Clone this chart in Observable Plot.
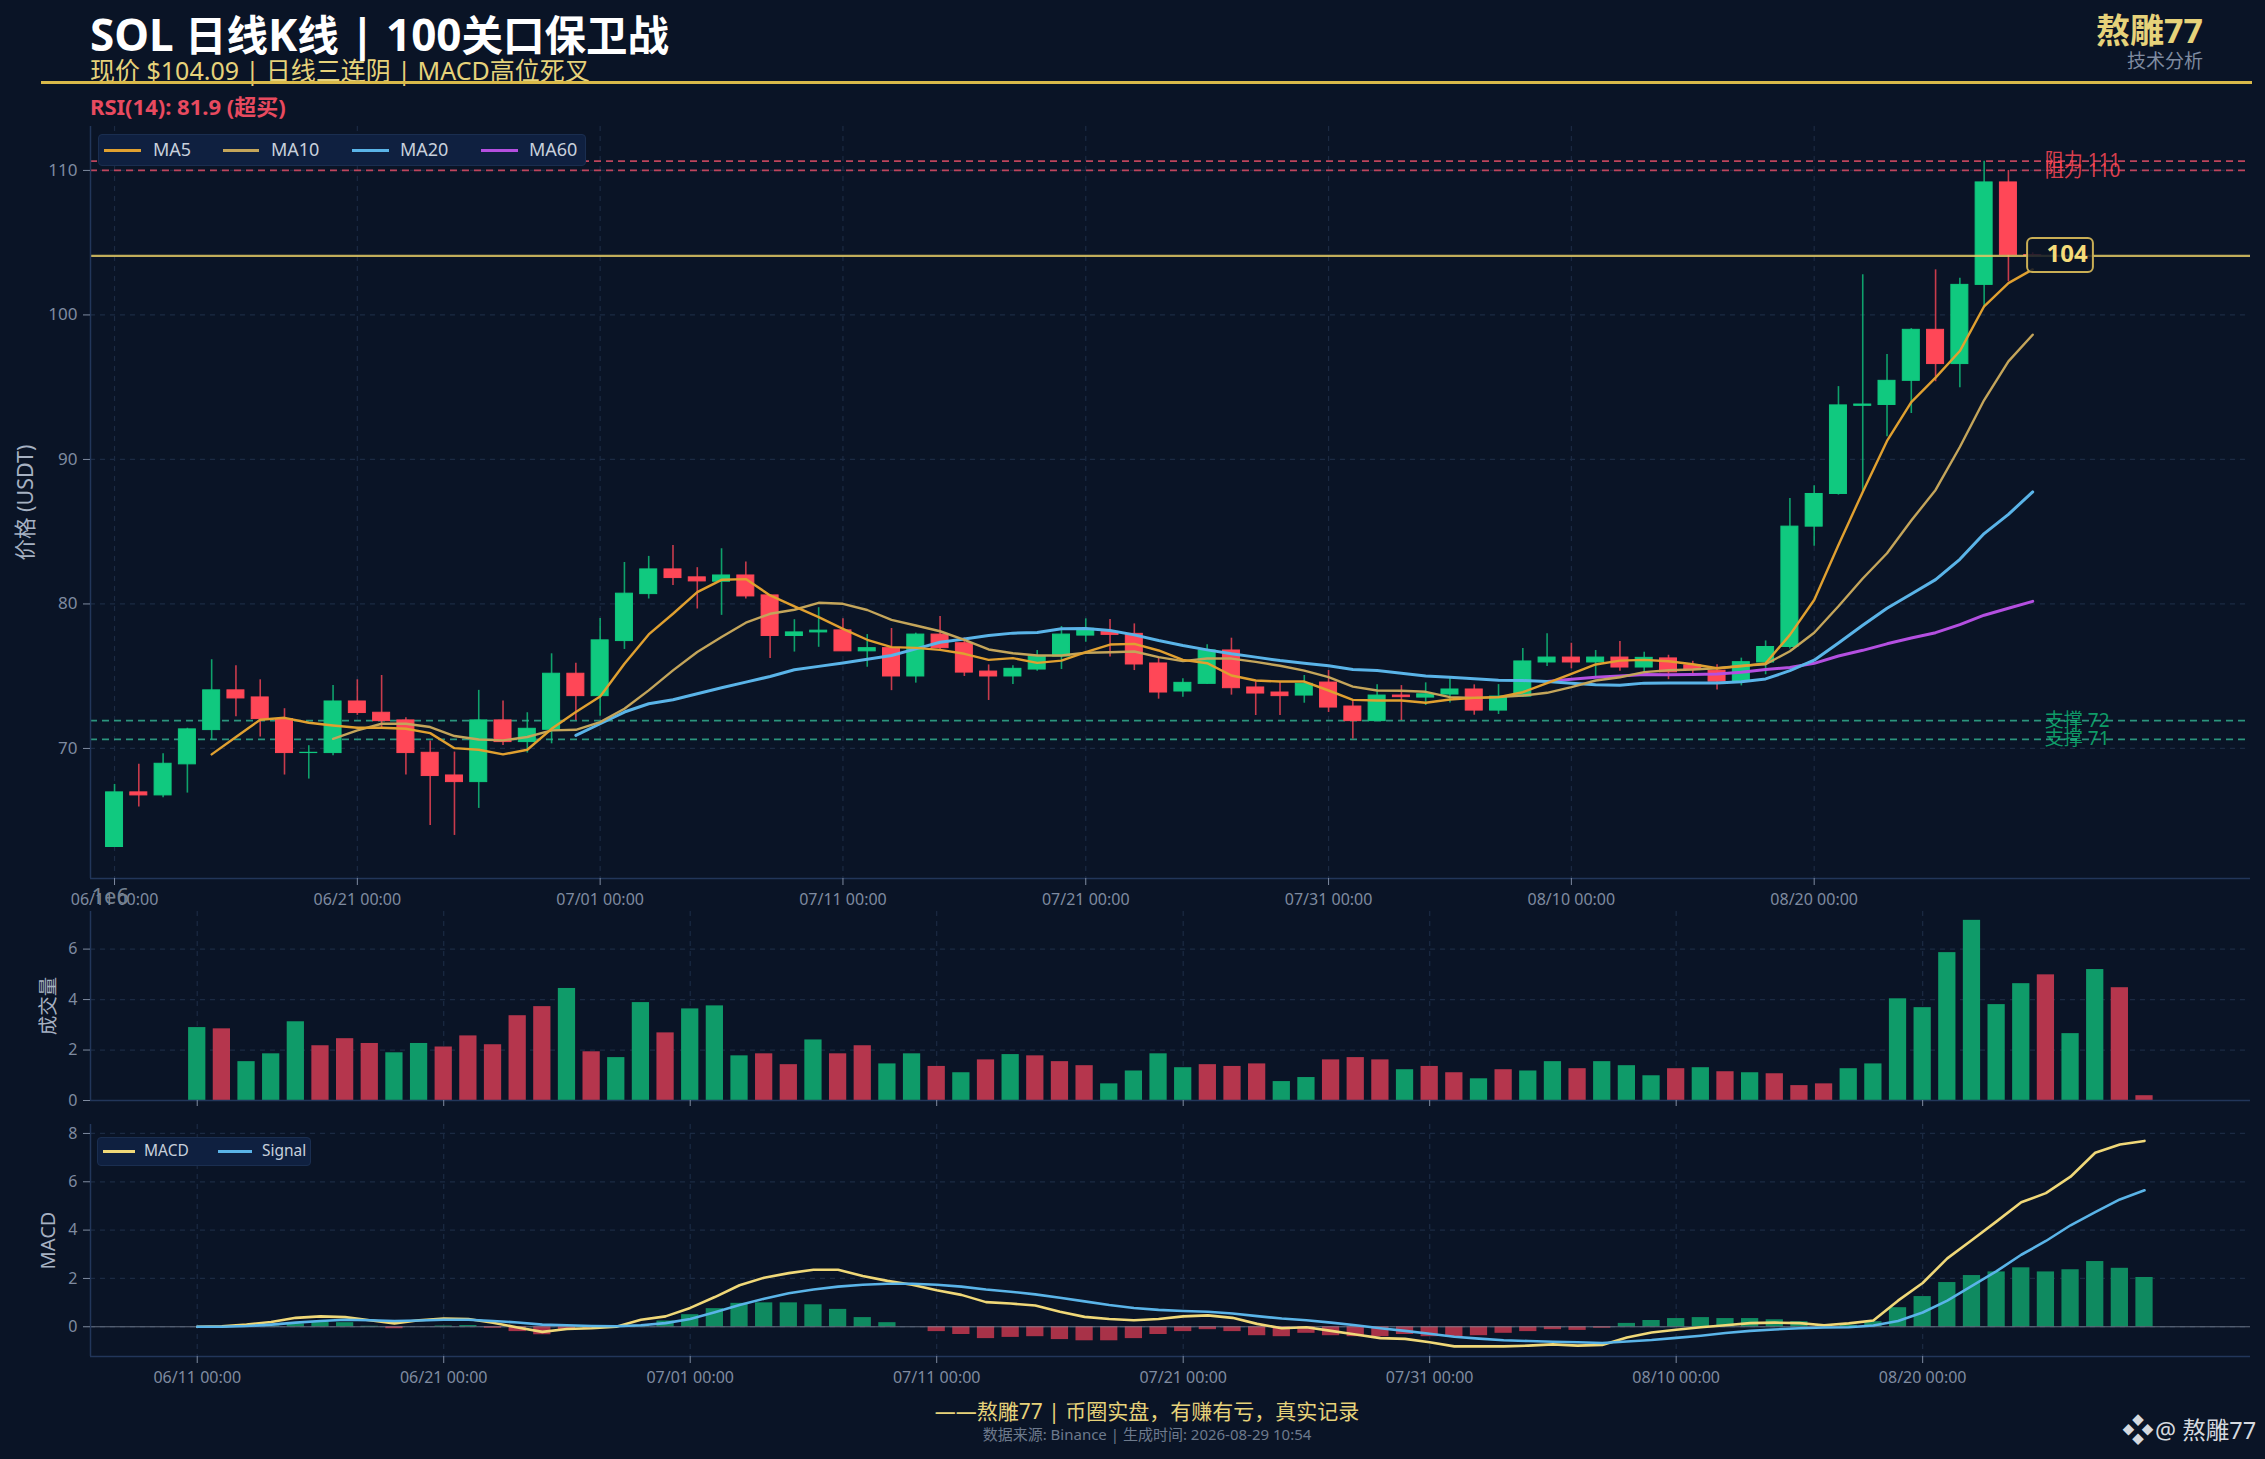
<!DOCTYPE html>
<html lang="zh">
<head>
<meta charset="utf-8">
<title>SOL 日线K线</title>
<script src="https://cdn.jsdelivr.net/npm/d3@7"></script>
<script src="https://cdn.jsdelivr.net/npm/@observablehq/plot@0.6"></script>
<style>
html,body{margin:0;padding:0;background:#0a1426;}
#page{position:relative;width:2265px;height:1459px;overflow:hidden;background:#0a1426;font-family:"Noto Sans","Noto Sans CJK SC",sans-serif;}
#page svg{position:absolute;left:0;background:transparent;overflow:visible;}
.t{position:absolute;white-space:nowrap;line-height:1;}
.box{position:absolute;box-sizing:border-box;background:#0f2040;border:1px solid #1a2e50;border-radius:4px;}
.sw{position:absolute;height:3px;}
.lg{position:absolute;color:#c8d0dc;white-space:nowrap;line-height:1;}
.c{font-size:41.5px;}
</style>
</head>
<body>
<div id="page">
  <div class="t" style="left:90px;top:12px;font-size:44px;font-weight:700;color:#fff;">SOL <span class="c">日线</span>K<span class="c">线</span> | 100<span class="c">关口保卫战</span></div>
  <div class="t" style="left:90px;top:58px;font-size:25px;color:#e6d27a;">现价 $104.09 | 日线三连阴 | MACD高位死叉</div>
  <div style="position:absolute;left:41px;top:81px;width:2211px;height:3px;background:#d9b94a;"></div>
  <div class="t" style="left:90px;top:95px;font-size:22px;font-weight:700;color:#e84a5f;">RSI(14): 81.9 (超买)</div>
  <div class="t" style="right:62px;top:13px;font-size:34px;font-weight:700;color:#e6d27a;">熬雕77</div>
  <div class="t" style="right:62px;top:52px;font-size:19px;color:#7f8ba0;">技术分析</div>
  <div class="t" style="left:0;width:2294px;text-align:center;top:1401px;font-size:21px;color:#e6d27a;">——熬雕77 | 币圈实盘，有赚有亏，真实记录</div>
  <div class="t" style="left:0;width:2294px;text-align:center;top:1427px;font-size:15px;color:#6d7a8d;">数据来源: Binance | 生成时间: 2026-08-29 10:54</div>
  <div class="t" style="left:2122px;top:1414px;font-size:32px;color:#d5d9df;">❖</div>
  <div class="t" style="left:2155px;top:1419px;font-size:23.5px;color:#d5d9df;">@ 熬雕77</div>
</div>
<script>
const opens=[63.18,66.96,66.75,68.9,71.27,74.02,73.53,72.03,69.68,69.68,73.25,72.47,71.94,69.7,68.13,67.67,71.94,70.44,71.29,75.17,73.62,77.43,80.68,82.39,81.84,81.54,81.97,80.59,77.78,78.03,78.17,76.72,76.94,74.98,77.88,77.28,75.32,74.98,75.46,76.36,77.81,78.05,77.93,75.88,73.94,74.47,76.78,74.22,73.87,73.66,74.56,72.9,71.89,73.66,73.52,73.73,74.08,72.62,73.59,75.95,76.29,75.95,76.29,75.6,76.23,75.75,75.38,74.62,75.95,77.02,85.35,87.61,93.71,93.77,95.44,98.97,96.6,102.08,109.17,104.14];
const closes=[66.96,66.75,68.94,71.32,74.02,73.46,72.03,69.68,69.7,73.25,72.45,71.89,69.68,68.09,67.67,71.94,70.44,71.36,75.17,73.62,77.48,80.71,82.39,81.79,81.56,81.97,80.52,77.78,78.03,78.15,76.72,76.94,74.98,77.88,76.94,75.25,74.98,75.51,76.36,77.88,78.28,77.86,75.81,73.87,74.54,76.78,74.17,73.8,73.62,74.47,72.83,71.89,73.66,73.55,73.75,74.08,72.62,73.59,76.02,76.29,75.95,76.29,75.6,76.27,75.27,75.46,74.62,75.97,77.02,85.35,87.61,93.74,93.8,95.44,98.97,96.6,102.08,109.17,104.14,104.09];
const highs=[67.51,68.9,69.63,71.4,76.14,75.72,74.75,72.75,70.19,74.36,74.75,75.05,72.12,70.51,69.75,74.02,73.28,72.47,76.55,75.9,79.0,82.87,83.29,84.05,82.51,83.82,82.9,80.59,78.91,79.74,78.98,77.88,78.3,77.98,79.13,77.65,75.78,75.72,76.78,78.44,78.97,78.92,78.62,76.3,74.82,77.17,77.63,74.59,74.59,75.05,75.39,73.32,74.4,74.35,74.54,74.86,74.4,74.42,76.92,77.93,77.28,76.78,77.4,76.66,76.45,76.03,75.8,76.25,77.44,87.3,88.18,95.04,102.78,97.27,99.05,103.12,102.53,110.64,110.0,104.3];
const lows=[63.18,65.94,66.59,66.91,70.6,72.2,70.79,68.16,67.88,69.49,72.29,71.36,68.16,64.67,63.98,65.85,70.21,69.68,70.32,71.94,72.22,76.85,80.34,81.28,79.65,79.21,80.34,76.23,76.67,77.0,76.72,75.62,74.0,74.52,76.78,74.98,73.32,74.42,75.35,75.46,77.35,76.32,75.39,73.41,73.55,74.42,73.69,72.28,72.28,73.13,72.49,70.66,71.89,71.93,72.97,73.15,72.3,72.35,73.55,75.67,75.51,74.93,75.35,75.16,74.76,74.98,74.05,74.33,75.1,76.88,84.0,87.53,87.75,91.57,93.18,95.38,94.96,100.46,102.3,104.0];
const ma5=[69.59,70.79,71.99,72.12,71.78,71.59,71.43,71.43,71.36,71.06,70.02,69.91,69.59,69.91,71.36,72.52,73.6,75.86,77.89,79.32,80.82,81.67,81.72,80.59,79.83,79.09,78.28,77.52,77.01,76.96,76.82,76.55,76.13,76.25,75.92,76.08,76.66,77.19,77.24,76.78,76.13,75.9,75.05,74.7,74.63,74.63,74.01,73.36,73.32,73.32,73.16,73.39,73.5,73.55,73.89,74.52,75.16,75.81,76.08,76.13,76.03,75.83,75.55,75.69,75.89,77.86,80.27,84.08,87.75,91.28,93.97,95.66,97.5,100.6,102.2,103.15];
const ma10=[70.67,71.25,71.71,71.71,71.48,70.86,70.62,70.56,70.79,71.25,71.29,71.82,72.75,74.02,75.4,76.67,77.71,78.7,79.32,79.6,80.08,80.01,79.58,78.9,78.51,78.11,77.52,76.85,76.59,76.43,76.43,76.62,76.66,76.71,76.32,76.04,76.22,76.22,75.99,75.72,75.39,74.93,74.28,74.01,73.99,73.92,73.55,73.5,73.55,73.66,73.85,74.24,74.7,74.93,75.28,75.41,75.46,75.55,75.72,75.83,76.73,78.01,79.84,81.76,83.51,85.77,87.89,90.86,94.11,96.79,98.63];
const ma20=[70.9,71.71,72.52,73.09,73.37,73.79,74.2,74.59,74.98,75.45,75.68,75.91,76.17,76.43,76.89,77.35,77.58,77.81,77.98,78.02,78.28,78.3,78.16,77.86,77.47,77.12,76.82,76.55,76.32,76.08,75.9,75.72,75.46,75.39,75.21,75.02,74.93,74.82,74.72,74.7,74.63,74.52,74.4,74.38,74.52,74.53,74.53,74.53,74.62,74.81,75.38,76.11,77.3,78.52,79.7,80.69,81.68,83.09,84.87,86.2,87.75];
const ma60=[74.63,74.79,74.93,75.02,75.12,75.1,75.12,75.15,75.27,75.46,75.6,75.89,76.4,76.79,77.24,77.64,78.01,78.57,79.22,79.7,80.18];
const volumes=[2.89,2.84,1.54,1.85,3.12,2.17,2.45,2.26,1.89,2.26,2.12,2.56,2.21,3.36,3.72,4.44,1.93,1.7,3.88,2.68,3.63,3.75,1.77,1.85,1.42,2.4,1.85,2.17,1.45,1.85,1.35,1.1,1.61,1.82,1.77,1.54,1.38,0.66,1.17,1.85,1.3,1.42,1.35,1.45,0.75,0.91,1.61,1.7,1.61,1.22,1.35,1.1,0.86,1.22,1.17,1.54,1.26,1.54,1.38,0.98,1.26,1.3,1.14,1.1,1.06,0.59,0.66,1.26,1.45,4.03,3.68,5.86,7.14,3.8,4.63,4.98,2.65,5.19,4.47,0.19];
const macd=[0,0.02,0.09,0.2,0.37,0.43,0.4,0.27,0.14,0.27,0.34,0.32,0.17,-0.03,-0.21,-0.09,-0.06,0,0.29,0.43,0.78,1.23,1.72,2.03,2.22,2.36,2.36,2.1,1.9,1.74,1.51,1.32,1.02,0.96,0.88,0.62,0.41,0.32,0.27,0.32,0.43,0.47,0.37,0.12,-0.06,-0.02,-0.17,-0.32,-0.47,-0.5,-0.64,-0.81,-0.81,-0.81,-0.78,-0.73,-0.78,-0.75,-0.44,-0.24,-0.12,-0.02,0.06,0.15,0.17,0.15,0.06,0.14,0.26,1.08,1.81,2.83,3.59,4.36,5.15,5.53,6.21,7.2,7.54,7.69];
const signal=[0,0,0.03,0.09,0.17,0.24,0.29,0.27,0.24,0.26,0.29,0.29,0.24,0.18,0.09,0.06,0.03,0.02,0.06,0.15,0.32,0.6,0.9,1.16,1.39,1.54,1.66,1.74,1.78,1.78,1.74,1.66,1.54,1.45,1.34,1.2,1.05,0.9,0.78,0.7,0.65,0.62,0.55,0.44,0.34,0.27,0.17,0.06,-0.06,-0.17,-0.29,-0.41,-0.49,-0.56,-0.59,-0.62,-0.64,-0.67,-0.61,-0.55,-0.46,-0.37,-0.26,-0.17,-0.11,-0.06,-0.03,-0.02,0.05,0.24,0.59,1.08,1.69,2.3,2.98,3.55,4.2,4.74,5.27,5.65];
const hist=[0,0,0,0.03,0.12,0.2,0.17,0.02,-0.08,0,0.03,0.05,-0.06,-0.2,-0.33,-0.15,-0.09,0,0.06,0.24,0.5,0.75,0.97,0.99,0.99,0.91,0.72,0.38,0.17,0,-0.2,-0.32,-0.49,-0.44,-0.41,-0.53,-0.58,-0.58,-0.49,-0.32,-0.2,-0.12,-0.2,-0.37,-0.41,-0.27,-0.37,-0.41,-0.41,-0.32,-0.41,-0.44,-0.37,-0.27,-0.2,-0.12,-0.15,-0.06,0.14,0.26,0.34,0.38,0.34,0.34,0.29,0.21,0.09,0.06,0.21,0.79,1.25,1.83,2.12,2.27,2.44,2.27,2.36,2.7,2.42,2.04];
const resistance=[110.64,110];
const support=[71.93,70.63];
const lastPrice=104.09;
const priceTicks=[70,80,90,100,110];
const volumeTicks=[0,2,4,6];
const macdTicks=[0,2,4,6,8];
const tickDays=[0,10,20,30,40,50,60,70];

const BG="#0a1426",GREEN="#10c97f",RED="#ff4757",VG="#0f9b69",VR="#b5364d",HG="#0f8a60",HR="#a83248";
const GRID="#1b2a43",SPINE="#22365a",TICK="#7f8ba0",GOLD="#e3c965";
const DAY=864e5,T0=Date.UTC(2026,5,11);
const at=d=>new Date(T0+d*DAY);
const dates=opens.map((_,i)=>at(i));
const tickDates=tickDays.map(at);
const fmt=d3.utcFormat("%m/%d %H:%M");
const font='"Noto Sans","Noto Sans CJK SC",sans-serif';
const series=(vals,start)=>vals.map((v,i)=>({x:dates[i+start],v}));
const candles=dates.map((x,i)=>({x,o:opens[i],c:closes[i],h:highs[i],l:lows[i],col:closes[i]>=opens[i]?GREEN:RED}));
const half=0.35*DAY;
const page=document.getElementById("page");
function mount(svg,top){svg.style.top=top+"px";page.appendChild(svg);}
const gridMarks=(yt)=>[
  Plot.ruleX(tickDates,{stroke:GRID,strokeDasharray:"5,5",strokeWidth:1.2}),
  Plot.ruleY(yt,{stroke:GRID,strokeDasharray:"5,5",strokeWidth:1.2})
];

/* price panel */
const px=[at(-0.99),at(87.97)],py=[61,113.04];
mount(Plot.plot({
  width:2265,height:930,marginLeft:90,marginRight:15,marginTop:126,marginBottom:52,
  style:{background:"transparent",fontFamily:font},
  x:{type:"utc",domain:px},y:{domain:py},color:{type:"identity"},
  marks:[
    ...gridMarks(priceTicks),
    Plot.ruleY(resistance,{stroke:"#d24a62",strokeWidth:1.8,strokeDasharray:"7,5",opacity:.9}),
    Plot.ruleY(support,{stroke:"#2fa487",strokeWidth:1.8,strokeDasharray:"7,5",opacity:.9}),
    Plot.ruleX(candles,{x:"x",y1:"l",y2:"h",stroke:"col",strokeWidth:1.6,strokeOpacity:.78}),
    Plot.rect(candles,{x1:d=>new Date(+d.x-half),x2:d=>new Date(+d.x+half),y1:"o",y2:"c",fill:"col",stroke:"col",strokeWidth:1}),
    Plot.ruleY([lastPrice],{stroke:GOLD,strokeWidth:2.2,opacity:.85}),
    Plot.lineY(series(ma60,59),{x:"x",y:"v",stroke:"#b44fe0",strokeWidth:3}),
    Plot.lineY(series(ma20,19),{x:"x",y:"v",stroke:"#5ab4e8",strokeWidth:3}),
    Plot.lineY(series(ma10,9),{x:"x",y:"v",stroke:"#c4a55a",strokeWidth:2.4}),
    Plot.lineY(series(ma5,4),{x:"x",y:"v",stroke:"#e0a030",strokeWidth:2.4}),
    Plot.rect([{}],{x1:()=>at(78.79),x2:()=>at(81.5),y1:()=>102.94,y2:()=>105.29,fill:BG,fillOpacity:.85,stroke:"#c9ae55",strokeWidth:2,r:5}),
    Plot.text(["104"],{x:()=>at(80.42),y:()=>lastPrice+0.08,text:d=>d,fill:"#f5dc7a",fontWeight:700,fontSize:24}),
    Plot.text(["阻力 111"],{x:()=>at(79.5),y:()=>resistance[0],text:d=>d,textAnchor:"start",fill:RED,fillOpacity:.85,fontSize:19}),
    Plot.text(["阻力 110"],{x:()=>at(79.5),y:()=>resistance[1],text:d=>d,textAnchor:"start",fill:RED,fillOpacity:.85,fontSize:19}),
    Plot.text(["支撑 72"],{x:()=>at(79.5),y:()=>support[0],text:d=>d,textAnchor:"start",fill:GREEN,fillOpacity:.75,fontSize:19}),
    Plot.text(["支撑 71"],{x:()=>at(79.5),y:()=>support[1],text:d=>d,textAnchor:"start",fill:GREEN,fillOpacity:.75,fontSize:19}),
    Plot.ruleX([px[0]],{stroke:SPINE,strokeWidth:1.5}),
    Plot.ruleY([py[0]],{stroke:SPINE,strokeWidth:1.5}),
    Plot.axisY({ticks:priceTicks,label:null,tickSize:7,tickPadding:6,fontSize:17,stroke:TICK,fill:TICK}),
    Plot.axisX({ticks:tickDates,tickFormat:fmt,label:null,tickSize:7,tickPadding:8,fontSize:16,stroke:TICK,fill:TICK}),
    Plot.text(["价格 (USDT)"],{frameAnchor:"left",textAnchor:"middle",rotate:-90,dx:-64,text:d=>d,fill:"#a6b1c2",fontSize:21.5})
  ]
}),0);

/* volume panel */
const lx=[at(-4.33),at(83.3)],vy=[0,7.49];
const vols=volumes.map((v,i)=>({x:dates[i],v,col:candles[i].col===GREEN?VG:VR}));
mount(Plot.plot({
  width:2265,height:230,marginLeft:90,marginRight:15,marginTop:21,marginBottom:20,
  style:{background:"transparent",fontFamily:font},
  x:{type:"utc",domain:lx},y:{domain:vy},color:{type:"identity"},
  marks:[
    ...gridMarks(volumeTicks),
    Plot.rectY(vols,{x1:d=>new Date(+d.x-half),x2:d=>new Date(+d.x+half),y1:0,y2:"v",fill:"col"}),
    Plot.ruleX([lx[0]],{stroke:SPINE,strokeWidth:1.5}),
    Plot.ruleY([0],{stroke:SPINE,strokeWidth:1.5}),
    Plot.axisY({ticks:volumeTicks,label:null,tickSize:7,tickPadding:6,fontSize:16,stroke:TICK,fill:TICK}),
    Plot.axisX({ticks:tickDates,tickFormat:()=>"",label:null,tickSize:6,stroke:TICK}),
    Plot.text(["成交量"],{frameAnchor:"left",textAnchor:"middle",rotate:-90,dx:-42,text:d=>d,fill:"#a6b1c2",fontSize:19.5}),
    Plot.text(["1e6"],{frameAnchor:"top-left",dy:-23,dx:1,text:d=>d,fill:"#75818f",fontSize:22})
  ]
}),890);

/* MACD panel */
const my=[-1.23,8.37];
const bars=hist.map((v,i)=>({x:dates[i],v,col:v>=0?HG:HR}));
mount(Plot.plot({
  width:2265,height:300,marginLeft:90,marginRight:15,marginTop:9,marginBottom:59,
  style:{background:"transparent",fontFamily:font},
  x:{type:"utc",domain:lx},y:{domain:my},color:{type:"identity"},
  marks:[
    ...gridMarks(macdTicks),
    Plot.rectY(bars,{x1:d=>new Date(+d.x-half),x2:d=>new Date(+d.x+half),y1:0,y2:"v",fill:"col"}),
    Plot.ruleY([0],{stroke:"#8d96a6",strokeWidth:1,opacity:.7}),
    Plot.lineY(macd.map((v,i)=>({x:dates[i],v})),{x:"x",y:"v",stroke:"#f0d878",strokeWidth:2.6}),
    Plot.lineY(signal.map((v,i)=>({x:dates[i],v})),{x:"x",y:"v",stroke:"#5ab4e8",strokeWidth:2.6}),
    Plot.ruleX([lx[0]],{stroke:SPINE,strokeWidth:1.5}),
    Plot.ruleY([my[0]],{stroke:SPINE,strokeWidth:1.5}),
    Plot.axisY({ticks:macdTicks,label:null,tickSize:7,tickPadding:6,fontSize:16,stroke:TICK,fill:TICK}),
    Plot.axisX({ticks:tickDates,tickFormat:fmt,label:null,tickSize:7,tickPadding:8,fontSize:16,stroke:TICK,fill:TICK}),
    Plot.text(["MACD"],{frameAnchor:"left",textAnchor:"middle",rotate:-90,dx:-42,text:d=>d,fill:"#a6b1c2",fontSize:20})
  ]
}),1115);

/* legends */
function legend(box,items,fs){
  const b=document.createElement("div");b.className="box";
  b.style.cssText=`left:${box[0]}px;top:${box[1]}px;width:${box[2]-box[0]}px;height:${box[3]-box[1]}px;`;
  page.appendChild(b);
  const cy=(box[1]+box[3])/2;
  for(const [name,col,x0,x1,tx] of items){
    const s=document.createElement("div");s.className="sw";
    s.style.cssText=`left:${x0}px;width:${x1-x0}px;top:${cy-1.5}px;background:${col};`;page.appendChild(s);
    const t=document.createElement("div");t.className="lg";t.textContent=name;
    t.style.cssText=`left:${tx}px;top:${cy-fs/2-1}px;font-size:${fs}px;`;page.appendChild(t);
  }
}
legend([98,134,586,166],[["MA5","#e0a030",104,141,153],["MA10","#c4a55a",223,259,271],["MA20","#5ab4e8",352,389,400],["MA60","#b44fe0",481,518,529]],18);
legend([97,1137,311,1166],[["MACD","#f0d878",103,135,144],["Signal","#5ab4e8",218,252,262]],15.5);
</script>
</body>
</html>
